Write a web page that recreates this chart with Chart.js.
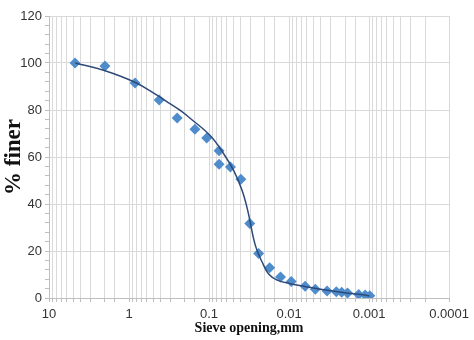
<!DOCTYPE html>
<html>
<head>
<meta charset="utf-8">
<script src="https://cdn.jsdelivr.net/npm/chart.js@4/dist/chart.umd.min.js"></script>
<style>
  html, body { margin: 0; padding: 0; background: #fff; }
  #wrap { width: 474px; height: 340px; }
</style>
</head>
<body>
<div id="wrap"><canvas id="myChart" width="474" height="340"></canvas></div>
<script>
// measured points (sieve opening in mm, % finer)
const sieveSize = [4.73, 2.0, 0.84, 0.42, 0.25, 0.15, 0.107, 0.075, 0.075, 0.054, 0.04, 0.031,
    0.024, 0.0175, 0.0128, 0.0094, 0.0063, 0.0047, 0.00335, 0.00257, 0.0022, 0.00186, 0.00135, 0.00112, 0.00098];
const percentFiner = [100, 98.7, 91.5, 84.3, 76.6, 71.8, 68.1, 62.7, 56.9, 55.7, 50.5, 31.7,
    18.9, 12.9, 8.9, 7.0, 5.0, 3.7, 3.0, 2.7, 2.4, 2.1, 1.5, 1.3, 1.0];

// smooth gradation curve
const curveSize = [4.69, 2.08, 0.834, 0.447, 0.305, 0.229, 0.171, 0.0963, 0.0657, 0.0493, 0.0387,
    0.0329, 0.0264, 0.0217, 0.018, 0.0141, 0.00963, 0.00657, 0.00335, 0.00099];
const curveFiner = [100, 96.9, 91.7, 86.3, 82.6, 79.8, 76.4, 69.0, 61.4, 54.3, 45.8,
    37.3, 22.4, 15.3, 10.2, 7.6, 6.1, 5.0, 3.3, 0.9];

const yTicks = [0, 20, 40, 60, 80, 100, 120];

const points = sieveSize.map((s, i) => ({ x: s, y: percentFiner[i] }));
const curve = curveSize.map((s, i) => ({ x: s, y: curveFiner[i] }));

function isDecade(v) {
    const l = Math.log10(v);
    return Math.abs(l - Math.round(l)) < 1e-9;
}

const ctx = document.getElementById('myChart').getContext('2d');
new Chart(ctx, {
    type: 'scatter',
    data: {
        datasets: [{
            data: points,
            pointStyle: 'rectRot',
            pointRadius: 5.5,
            pointHoverRadius: 5.5,
            backgroundColor: '#4f8ccc',
            borderWidth: 0,
            showLine: false,
            order: 1
        }, {
            data: curve,
            showLine: true,
            pointRadius: 0,
            borderColor: '#2e4a78',
            borderWidth: 1.5,
            tension: 0.4,
            order: 0
        }]
    },
    options: {
        responsive: false,
        animation: false,
        layout: { padding: { top: 16, right: 13, left: 0, bottom: 3 } },
        plugins: {
            legend: { display: false },
            tooltip: { enabled: false }
        },
        scales: {
            x: {
                type: 'logarithmic',
                reverse: true,
                min: 0.0001,
                max: 10,
                afterFit: (scale) => { scale.height = 39; },
                border: { color: '#bfbfbf' },
                grid: { color: '#d9d9d9', tickLength: 4, tickColor: '#bfbfbf' },
                ticks: {
                    autoSkip: false,
                    maxRotation: 0,
                    color: '#333',
                    font: { family: 'Liberation Sans', size: 13 },
                    padding: 5,
                    callback: (v) => isDecade(v) ? Number(v.toPrecision(1)).toString() : ''
                },
                title: {
                    display: true,
                    text: 'Sieve opening,mm',
                    color: '#111',
                    font: { family: 'Liberation Serif', size: 14, weight: 'bold' },
                    padding: { top: 0, bottom: 0 }
                }
            },
            y: {
                min: 0,
                max: 120,
                afterFit: (scale) => { scale.width = 49; },
                border: { color: '#bfbfbf' },
                grid: {
                    color: (c) => yTicks.includes(c.tick.value) ? '#d9d9d9' : 'transparent',
                    tickColor: '#bfbfbf',
                    tickLength: 4
                },
                ticks: {
                    stepSize: 4,
                    autoSkip: false,
                    color: '#333',
                    font: { family: 'Liberation Sans', size: 13 },
                    padding: 3,
                    callback: (v) => yTicks.includes(v) ? v : ''
                },
                title: {
                    display: true,
                    text: '% finer',
                    color: '#111',
                    font: { family: 'Liberation Serif', size: 23, weight: 'bold' },
                    padding: { top: 0, bottom: 0 }
                }
            }
        }
    }
});
</script>
</body>
</html>
